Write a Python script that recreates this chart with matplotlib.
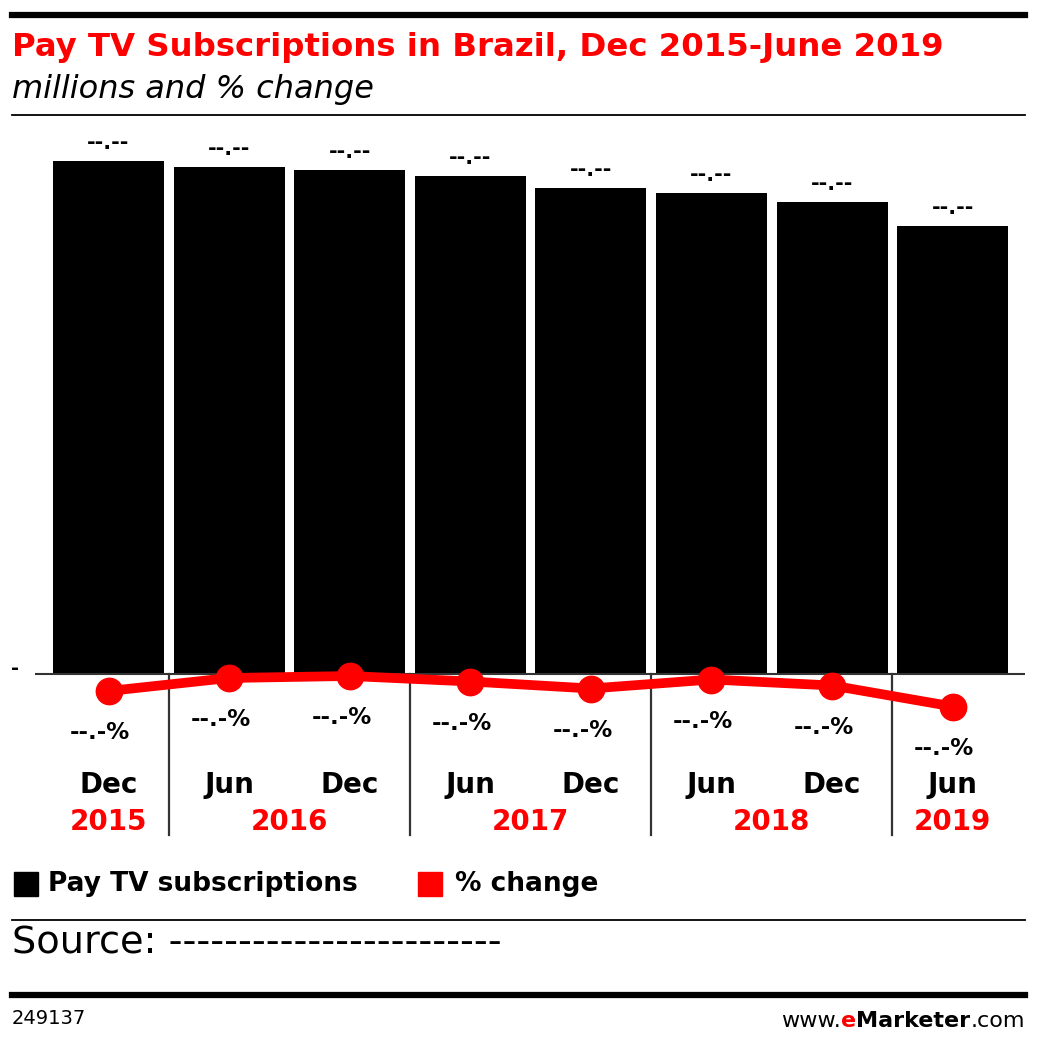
import matplotlib
matplotlib.use('Agg')
import matplotlib.pyplot as plt

# data (labels in the picture are masked as "--.--")
months = ["Dec", "Jun", "Dec", "Jun", "Dec", "Jun", "Dec", "Jun"]
years = ["2015", "2016", "2017", "2018", "2019"]
year_pos = [0, 1.5, 3.5, 5.5, 7]
subs = [19.12, 18.90, 18.78, 18.56, 18.11, 17.93, 17.59, 16.70]  # millions
pct = [-1.7, -0.4, -0.2, -0.75, -1.45, -0.55, -1.15, -3.25]  # % change
bar_labels = ["--.--"] * 8
pct_labels = ["--.-%"] * 8

RED = '#ff0000'
W, H = 1038, 1044

fig = plt.figure(figsize=(W / 100, H / 100), dpi=100)

def fy(py):
    return 1 - py / H

def fx(px):
    return px / W

# axes: x 35..1025 px, y 125..840 px
ax = fig.add_axes([fx(35), fy(840), fx(990), 715 / H])
x = list(range(len(subs)))
ax.bar(x, subs, width=0.92, color='black')
ax.set_xlim(-0.61, 7.6)
ax.set_ylim(-166 / 26.83, 549 / 26.83)
ax.axis('off')
ax.axhline(0, color='#333333', lw=1.5, zorder=1)

for i, v in enumerate(subs):
    ax.annotate(bar_labels[i], (i, v), xytext=(0, 13), textcoords='offset points',
                ha='center', va='center', fontsize=15, fontweight='bold')

# separators between years
xt = ax.get_xaxis_transform()
for s in [0.5, 2.5, 4.5, 6.5]:
    ax.plot([s, s], [0.007, 0.232], transform=xt, color='#333333', lw=1.6, clip_on=False)

for i, m in enumerate(months):
    ax.text(i, 0.077, m, transform=xt, ha='center', va='center',
            fontsize=20, fontweight='bold')
for p, yr in zip(year_pos, years):
    ax.text(p, 0.025, yr, transform=xt, ha='center', va='center',
            fontsize=20, fontweight='bold', color=RED)

ax2 = ax.twinx()
ax2.set_ylim(-16.6, 54.9)
ax2.axis('off')
ax2.plot(x, pct, color=RED, lw=7, marker='o', markersize=19, zorder=3)
for i, v in enumerate(pct):
    ax2.annotate(pct_labels[i], (i, v), xytext=(-6, -30), textcoords='offset points',
                 ha='center', va='center', fontsize=16.5, fontweight='bold')

fig.text(fx(15), fy(669), '-', fontsize=14, fontweight='bold', ha='center', va='center')

# header
fig.add_artist(plt.Line2D([fx(12), fx(1025)], [fy(15), fy(15)], color='black', lw=4.5))
fig.text(fx(12), fy(56), 'Pay TV Subscriptions in Brazil, Dec 2015-June 2019',
         fontsize=23.3, fontweight='bold', color=RED, ha='left', va='baseline')
fig.text(fx(12), fy(98), 'millions and % change', fontsize=23, style='italic',
         ha='left', va='baseline')
fig.add_artist(plt.Line2D([fx(12), fx(1025)], [fy(115), fy(115)], color='black', lw=1.3))

# legend
fig.add_artist(plt.Rectangle((fx(14), fy(896)), fx(24), 24 / H, color='black'))
fig.text(fx(48), fy(884), 'Pay TV subscriptions', fontsize=19, fontweight='bold',
         ha='left', va='center')
fig.add_artist(plt.Rectangle((fx(418), fy(896)), fx(24), 24 / H, color=RED))
fig.text(fx(455), fy(884), '% change', fontsize=19, fontweight='bold',
         ha='left', va='center')

fig.add_artist(plt.Line2D([fx(12), fx(1025)], [fy(920), fy(920)], color='black', lw=1.3))
fig.text(fx(12), fy(954), 'Source: ------------------------', fontsize=27.5,
         ha='left', va='baseline')

# footer
fig.add_artist(plt.Line2D([fx(12), fx(1025)], [fy(995), fy(995)], color='black', lw=4.5))
fig.text(fx(12), fy(1018), '249137', fontsize=14, ha='left', va='center')

r = fig.canvas.get_renderer()
right = 1025
parts = [('.com', 'normal', 'black'), ('Marketer', 'bold', 'black'),
         ('e', 'bold', RED), ('www.', 'normal', 'black')]
for txt, wt, col in parts:
    t = fig.text(fx(right), fy(1027), txt, fontsize=16, fontweight=wt, color=col,
                 ha='right', va='baseline')
    bb = t.get_window_extent(renderer=r)
    right -= bb.width

fig.savefig('out.png', dpi=100)
